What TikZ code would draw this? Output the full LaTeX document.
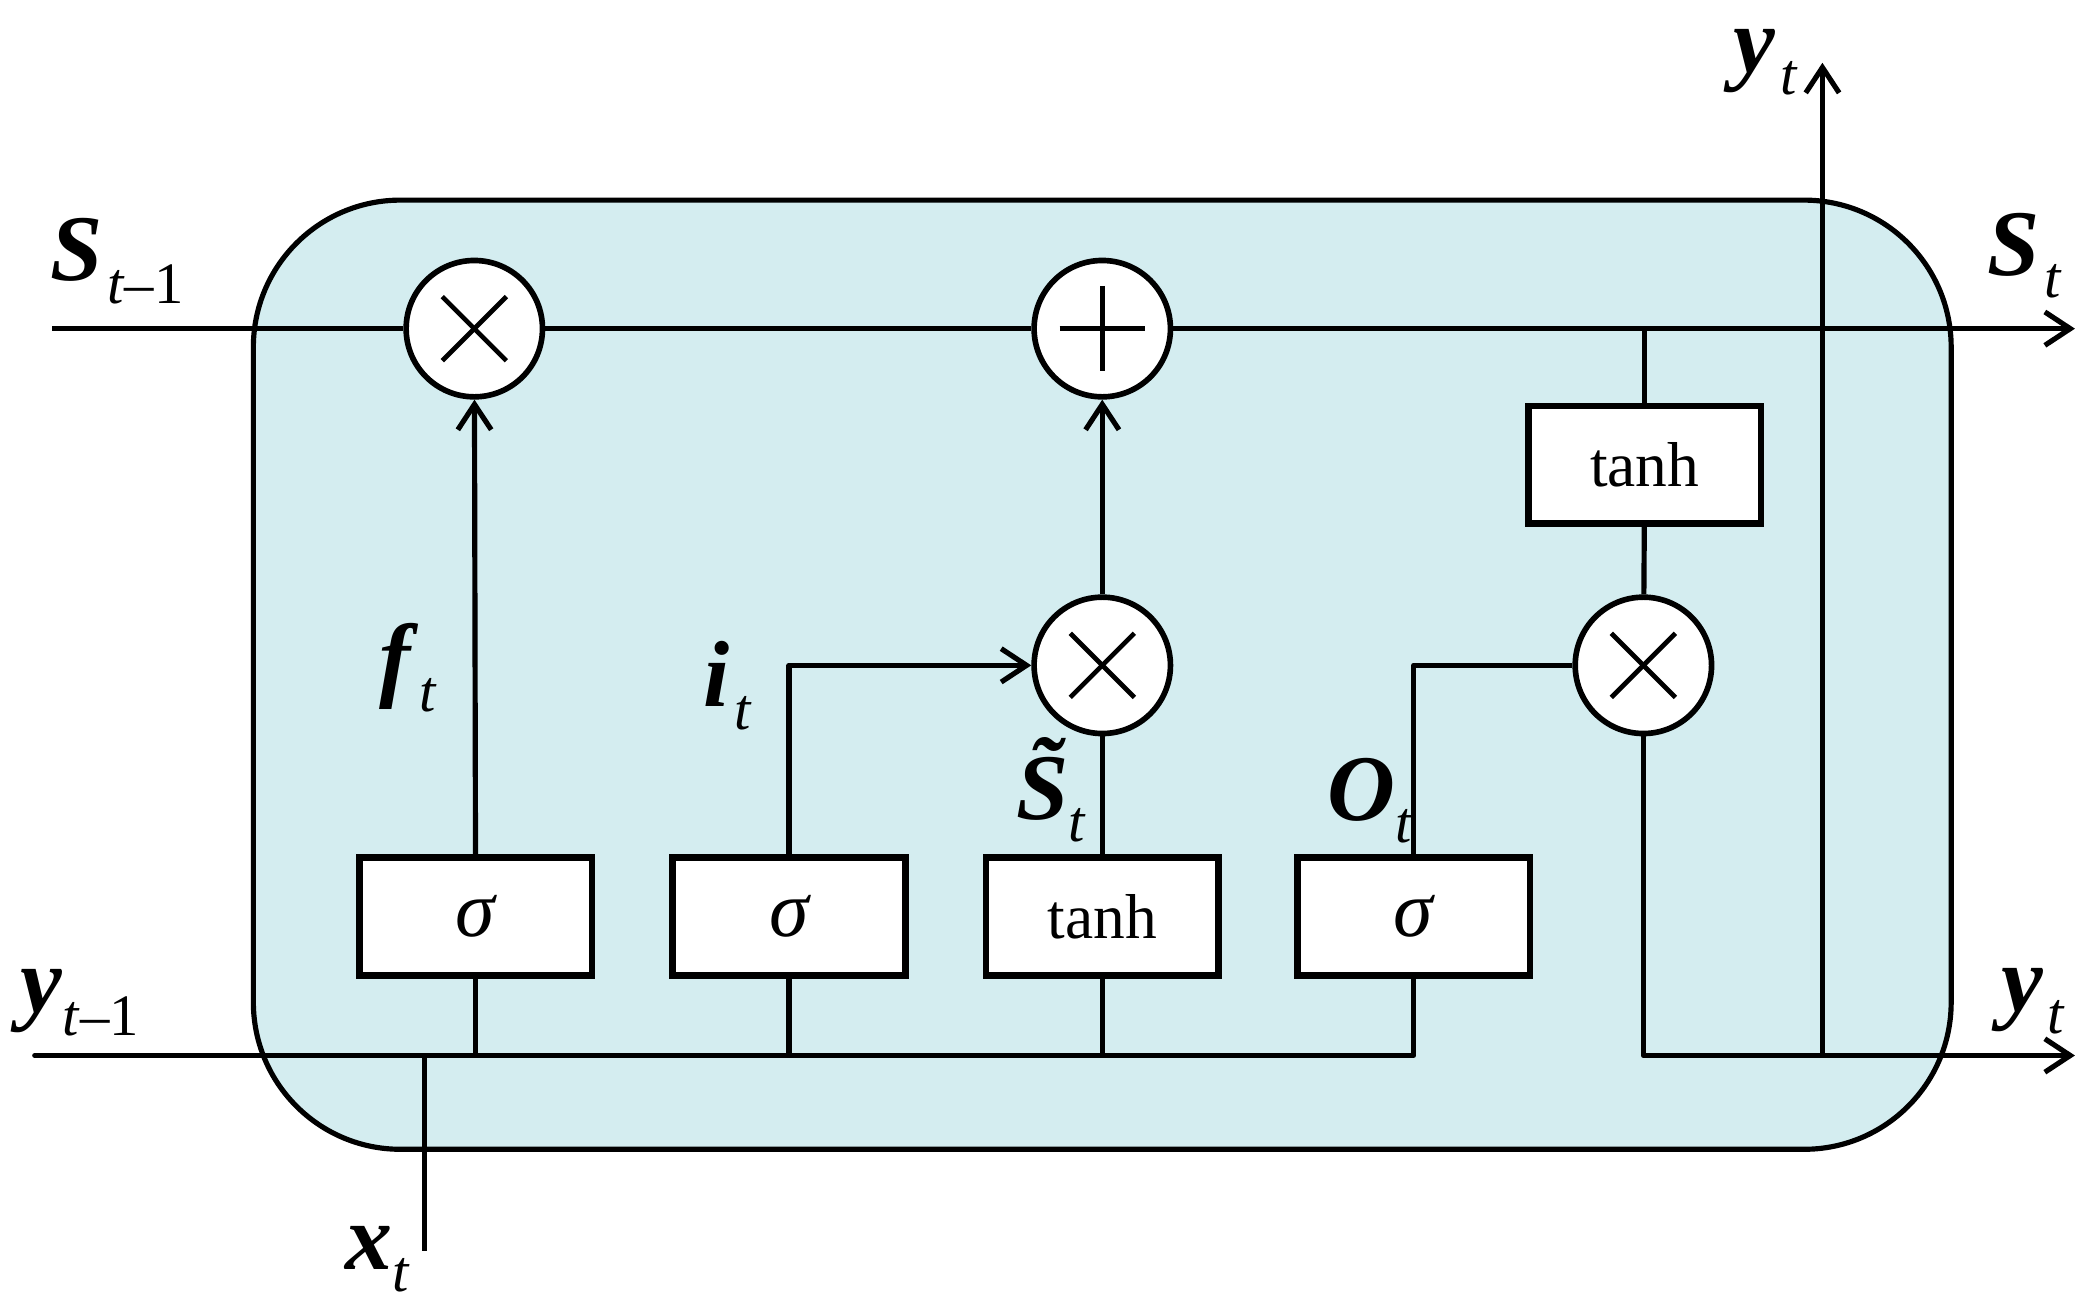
\documentclass[tikz,border=0pt]{standalone}
\usepackage{fontspec}
\setmainfont{Liberation Serif}
\usetikzlibrary{arrows.meta}
\definecolor{cellfill}{RGB}{212,237,240}
\newcommand{\mainlet}[1]{{\fontsize{20}{20}\selectfont\bfseries\itshape #1}}
\newcommand{\subsc}[1]{{\fontsize{12.5}{12.5}\selectfont #1}}
\newcommand{\lbl}[3]{\mainlet{#1}\kern#3\raisebox{-4.8pt}{\subsc{#2}}}
\tikzset{
  x=0.01cm, y=-0.01cm,
  wire/.style={line width=1.1pt, line join=round},
  arr/.style={-{Straight Barb[length=0.19cm,width=0.25cm]}},
  cell/.style={draw, line width=1.1pt, fill=cellfill, rounded corners=1.1cm,
    minimum width=12.7cm, minimum height=7.1cm, inner sep=0},
  gate/.style={draw, fill=white, line width=1.4pt, minimum width=1.74cm,
    minimum height=0.88cm, inner sep=0},
  opcircle/.style={circle, draw, fill=white, line width=1.2pt,
    minimum size=1.02cm, inner sep=0},
  mult/.style={opcircle, path picture={
    \draw[line width=1pt] ([shift={(-24,-24)}]path picture bounding box.center) -- ([shift={(24,24)}]path picture bounding box.center);
    \draw[line width=1pt] ([shift={(-24,24)}]path picture bounding box.center) -- ([shift={(24,-24)}]path picture bounding box.center);}},
  plus/.style={opcircle, path picture={
    \draw[line width=1.1pt] ([shift={(-32,0)}]path picture bounding box.center) -- ([shift={(32,0)}]path picture bounding box.center);
    \draw[line width=1.1pt] ([shift={(0,-32)}]path picture bounding box.center) -- ([shift={(0,32)}]path picture bounding box.center);}},
  txt/.style={inner sep=0, anchor=base west},
}
\begin{document}
\begin{tikzpicture}
\useasboundingbox (0,0) rectangle (1568,977);
% cell
\node[cell] (cell) at (825,505) {};
% coordinates
\coordinate (sin) at (39,246);
\coordinate (sout) at (1553,246);
\coordinate (yin) at (26,790);
\coordinate (yout) at (1553,790);
\coordinate (xin) at (318,936);
\coordinate (xj) at (318,790);
\coordinate (ytop) at (1364,47);
\coordinate (yj) at (1364,790);
% gates
\node[gate] (b1) at (356,686) {\fontsize{17}{17}\selectfont\itshape σ};
\node[gate] (b2) at (590.5,686) {\fontsize{17}{17}\selectfont\itshape σ};
\node[gate] (b3) at (825,686) {\fontsize{13.5}{13.5}\selectfont tanh};
\node[gate] (b4) at (1058,686) {\fontsize{17}{17}\selectfont\itshape σ};
\node[gate] (tb) at (1231,348) {\fontsize{13.5}{13.5}\selectfont tanh};
% operators
\node[mult] (m1) at (355,246) {};
\node[plus] (add) at (825,246) {};
\node[mult] (m2) at (825,498) {};
\node[mult] (m3) at (1230,498) {};
% wires
\draw[wire] (sin) -- (m1);
\draw[wire] (m1) -- (add);
\draw[wire,arr] (add) -- (sout);
\draw[wire] (tb.north) -- (tb.north |- add);
\draw[wire] (tb) -- (m3);
\draw[wire,arr] (m3) |- (yout);
\draw[wire,arr] (yj) -- (ytop);
\draw[wire,arr] (b1) -- (m1);
\draw[wire,arr] (b2.north) |- (m2.west);
\draw[wire] (b3) -- (m2);
\draw[wire,arr] (m2) -- (add);
\draw[wire] (b4.north) |- (m3.west);
\draw[wire, line cap=round] (yin) -- (b4.south |- yin) -- (b4.south);
\draw[wire] (b1.south) -- (b1.south |- yin);
\draw[wire] (b2.south) -- (b2.south |- yin);
\draw[wire] (b3.south) -- (b3.south |- yin);
\draw[wire] (xin) -- (xj);
% labels
\node[txt] (lsin) at (37,210) {\lbl{S}{\textit{t}–1}{1pt}};
\node[txt] (lsout) at (1487,206) {\lbl{S}{\textit{t}}{1pt}};
\node[txt] (lytop) at (1297,54) {\lbl{y}{\textit{t}}{1pt}};
\node[txt] (lf) at (283,516) {\lbl{f}{\textit{t}}{2pt}};
\node[txt] (li) at (526,529) {\lbl{i}{\textit{t}}{1pt}};
\node[txt] (ls) at (760,613) {\lbl{\~{S}}{\textit{t}}{0pt}};
\node[txt] (lo) at (993,614) {\lbl{O}{\textit{t}}{0pt}};
\node[txt] (lyin) at (15,758) {\lbl{y}{\textit{t}–1}{0pt}};
\node[txt] (lyout) at (1497,757) {\lbl{y}{\textit{t}}{1pt}};
\node[txt] (lx) at (258,950) {\lbl{x}{\textit{t}}{0pt}};
\end{tikzpicture}
\end{document}
